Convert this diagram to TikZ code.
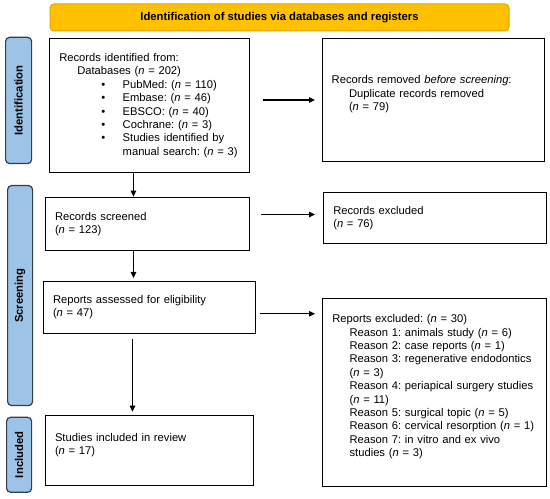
\documentclass[tikz,border=0pt]{standalone}
\usepackage{fontspec}
\setmainfont{Liberation Sans}
\usetikzlibrary{arrows.meta,calc}
\definecolor{bannerfill}{HTML}{FFC000}
\definecolor{bannerline}{HTML}{E3A300}
\definecolor{sidefill}{HTML}{9DC3E6}
\definecolor{sideline}{HTML}{2F3F52}
\frenchspacing
\begin{document}
\begin{tikzpicture}[x=1pt,y=1pt,
  box/.style={draw=black, line width=1pt, anchor=north west, align=left,
    inner xsep=9.5pt, inner ysep=0pt, font=\fontsize{11.2}{13.4}\selectfont\frenchspacing},
  side/.style={draw=sideline, fill=sidefill, line width=1.2pt, rounded corners=4pt,
    anchor=north west, inner sep=0pt},
  sidetext/.style={rotate=90, inner sep=0pt, font=\fontsize{11.3}{13}\selectfont\bfseries},
  banner/.style={draw=bannerline, fill=bannerfill, line width=1pt, rounded corners=4pt,
    inner sep=0pt, font=\fontsize{11.3}{13}\selectfont\bfseries},
  arr/.style={line width=1.1pt, -{Triangle[length=6pt,width=5.5pt]}}]
\useasboundingbox (0,0) rectangle (550,499);

% banner
\node[banner, minimum width=459pt, minimum height=27pt] (banner) at (279.5,481.5)
  {Identification of studies via databases and registers};

% side labels
\node[side, minimum width=26pt, minimum height=126.3pt] (idl) at (5,462.3) {};
\node[sidetext] (idlt) at (idl.center) {Identification};
\node[side, minimum width=25pt, minimum height=220pt] (scl) at (7,314) {};
\node[sidetext] (sclt) at (scl.center) {Screening};
\node[side, minimum width=25pt, minimum height=75pt] (inl) at (6,82.3) {};
\node[sidetext] (inlt) at (inl.center) {Included};

% boxes
\node[box, minimum width=199.7pt, minimum height=133.4pt, text width=180.7pt] (ident) at (49.3,460.7)
  {Records identified from:\\
   \hspace*{18pt}Databases (\textit{n} = 202)\\
   \hspace*{42pt}\makebox[21.4pt][l]{•}PubMed: (\textit{n} = 110)\\
   \hspace*{42pt}\makebox[21.4pt][l]{•}Embase: (\textit{n} = 46)\\
   \hspace*{42pt}\makebox[21.4pt][l]{•}EBSCO: (\textit{n} = 40)\\
   \hspace*{42pt}\makebox[21.4pt][l]{•}Cochrane: (\textit{n} = 3)\\
   \hspace*{42pt}\makebox[21.4pt][l]{•}Studies identified by\\
   \hspace*{63.4pt}manual search: (\textit{n} = 3)};

\node[box, minimum width=222.3pt, minimum height=122.4pt, text width=203.3pt] (removed) at (321.7,460.7)
  {Records removed \textit{before screening}:\\
   \hspace*{17.3pt}Duplicate records removed\\
   \hspace*{17.3pt}(\textit{n} = 79)\\
   \mbox{}};

\node[box, minimum width=204pt, minimum height=53.3pt, text width=185pt] (screened) at (45,302.3)
  {Records screened\\(\textit{n} = 123)};

\node[box, minimum width=222.7pt, minimum height=51.6pt, text width=203.7pt] (excluded) at (323.3,307.3)
  {Records excluded\\(\textit{n} = 76)};

\node[box, minimum width=212pt, minimum height=52pt, text width=193pt] (assessed) at (43,218.3)
  {Reports assessed for eligibility\\(\textit{n} = 47)};

\node[box, minimum width=223.4pt, minimum height=188.3pt, text width=204.4pt] (repexcl) at (322.3,201.3)
  {Reports excluded: (\textit{n} = 30)\\
   \hspace*{17.3pt}Reason 1: animals study (\textit{n} = 6)\\
   \hspace*{17.3pt}Reason 2: case reports (\textit{n} = 1)\\
   \hspace*{17.3pt}Reason 3: regenerative endodontics\\
   \hspace*{17.3pt}(\textit{n} = 3)\\
   \hspace*{17.3pt}Reason 4: periapical surgery studies\\
   \hspace*{17.3pt}(\textit{n} = 11)\\
   \hspace*{17.3pt}Reason 5: surgical topic (\textit{n} = 5)\\
   \hspace*{17.3pt}Reason 6: cervical resorption (\textit{n} = 1)\\
   \hspace*{17.3pt}Reason 7: in vitro and ex vivo\\
   \hspace*{17.3pt}studies (\textit{n} = 3)\\
   \mbox{}};

\node[box, minimum width=208pt, minimum height=70pt, text width=189pt] (included) at (45,84)
  {Studies included in review\\(\textit{n} = 17)\\\mbox{}};

% horizontal arrows
\draw[arr, shorten <=12.7pt, shorten >=6.7pt] (ident.east |- removed.west) -- (removed.west);
\coordinate (a2e) at ([yshift=3.5pt]excluded.west);
\draw[arr, shorten <=11pt, shorten >=8.3pt] (screened.east |- a2e) -- (a2e);
\coordinate (a3s) at ([yshift=-6.6pt]assessed.east);
\draw[arr, shorten <=4.3pt, shorten >=7.3pt] (a3s) -- (a3s -| repexcl.west);

% vertical arrows
\coordinate (d1) at ([xshift=-16.2pt]ident.south);
\draw[arr] (d1) -- (d1 |- screened.north);
\coordinate (d2) at ([xshift=-14pt]screened.south);
\draw[arr, shorten >=2.7pt] (d2) -- (d2 |- assessed.north);
\coordinate (d3) at ([xshift=-17pt]assessed.south);
\draw[arr, shorten <=5.3pt, shorten >=3.3pt] (d3) -- (d3 |- included.north);
\end{tikzpicture}
\end{document}
